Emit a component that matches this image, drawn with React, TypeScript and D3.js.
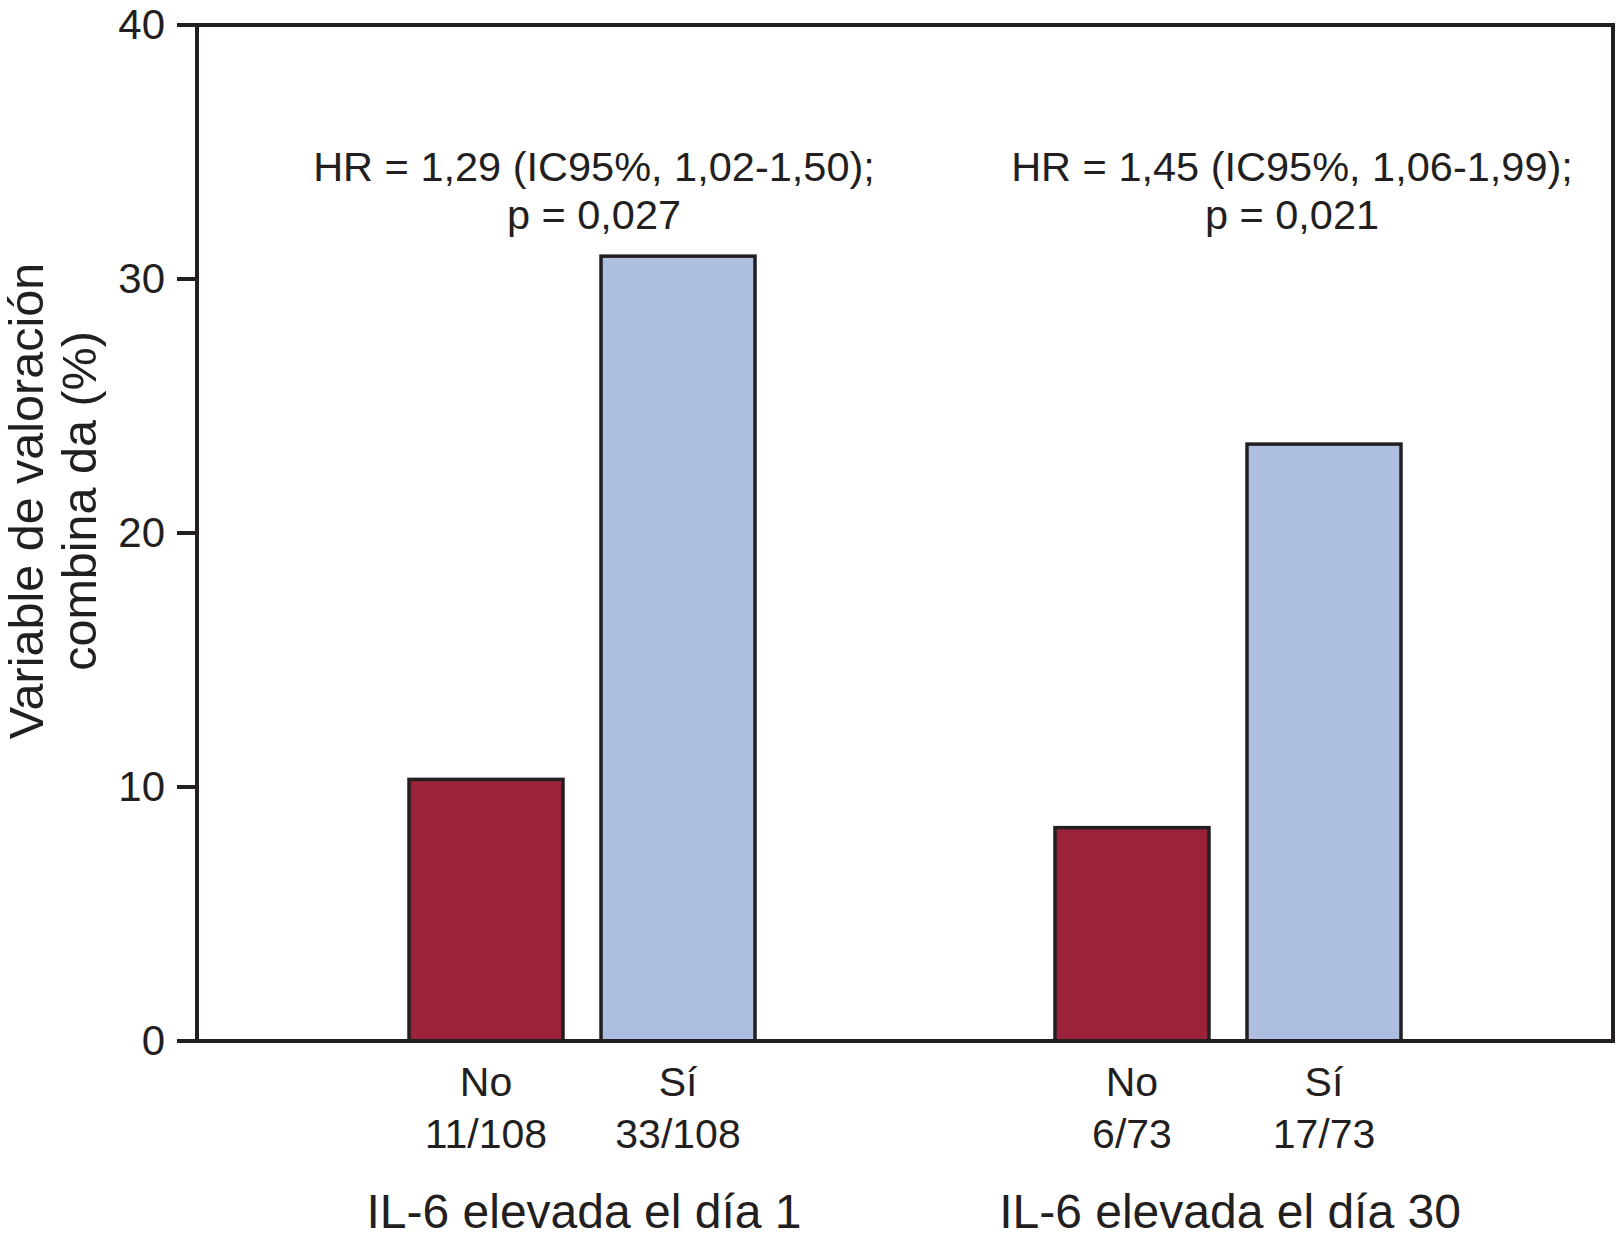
import React, { useEffect, useRef } from "react";
import * as d3 from "d3";

// chart values
const groups = ["IL-6 elevada el día 1", "IL-6 elevada el día 30"];
const subgroups = ["No", "Sí"];
const counts = [["11/108", "33/108"], ["6/73", "17/73"]];
const values = [[10.3, 30.9], [8.4, 23.5]];
const hrLines = [
    ["HR = 1,29 (IC95%, 1,02-1,50);", "p = 0,027"],
    ["HR = 1,45 (IC95%, 1,06-1,99);", "p = 0,021"],
];
const yTicks = [0, 10, 20, 30, 40];
const yTitle = ["Variable de valoración", "combina da (%)"];

const App: React.FC = () => {
    const svgRef = useRef<SVGSVGElement | null>(null);
    const ink = "#231f20";
    const colors = ["#9c2239", "#aebee0"];
    const font = "'Liberation Sans', Arial, Helvetica, sans-serif";

    useEffect(() => {
        const svg = d3.select(svgRef.current);
        svg.selectAll("*").remove();

        const left = 197, right = 1613, top = 25, bottom = 1041;

        const xGroup = d3.scaleBand<string>()
            .domain(groups)
            .range([left, right])
            .paddingInner(0)
            .paddingOuter(0.096);
        const xSub = d3.scaleBand<string>()
            .domain(subgroups)
            .range([-173, 173])
            .paddingInner(0.198);
        const y = d3.scaleLinear().domain([0, 40]).range([bottom, top]);

        const center = (g: string) => xGroup(g)! + xGroup.bandwidth() / 2;

        const g = svg.append("g").style("font-family", font).attr("fill", ink);

        // bars
        groups.forEach((grp, gi) => {
            subgroups.forEach((sub, si) => {
                g.append("rect")
                    .attr("x", center(grp) + xSub(sub)!)
                    .attr("y", y(values[gi][si]))
                    .attr("width", xSub.bandwidth())
                    .attr("height", y(0) - y(values[gi][si]))
                    .attr("fill", colors[si])
                    .attr("stroke", ink)
                    .attr("stroke-width", 3.5);

                const cx = center(grp) + xSub(sub)! + xSub.bandwidth() / 2;
                g.append("text").attr("x", cx).attr("y", 1096)
                    .attr("text-anchor", "middle").style("font-size", "41px").text(sub);
                g.append("text").attr("x", cx).attr("y", 1148)
                    .attr("text-anchor", "middle").style("font-size", "41px").text(counts[gi][si]);
            });

            g.append("text").attr("x", center(grp) + 2).attr("y", 1228)
                .attr("text-anchor", "middle").style("font-size", "48px").text(grp);
        });

        // HR annotations
        const hrOffset = [12, 64];
        hrLines.forEach((lines, gi) => {
            lines.forEach((line, li) => {
                g.append("text")
                    .attr("x", center(groups[gi]) + hrOffset[gi])
                    .attr("y", 181 + li * 48)
                    .attr("text-anchor", "middle")
                    .style("font-size", "41.5px")
                    .text(line);
            });
        });

        // frame
        g.append("rect")
            .attr("x", left).attr("y", top)
            .attr("width", right - left).attr("height", bottom - top)
            .attr("fill", "none").attr("stroke", ink).attr("stroke-width", 4);

        // y ticks
        yTicks.forEach((t) => {
            g.append("line")
                .attr("x1", left - 20).attr("x2", left)
                .attr("y1", y(t)).attr("y2", y(t))
                .attr("stroke", ink).attr("stroke-width", 4);
            g.append("text")
                .attr("x", 165).attr("y", y(t)).attr("dy", "0.33em")
                .attr("text-anchor", "end").style("font-size", "42px")
                .text(String(t));
        });

        // y title
        yTitle.forEach((line, i) => {
            g.append("text")
                .attr("transform", `translate(${43 + i * 53},501) rotate(-90)`)
                .attr("text-anchor", "middle")
                .style("font-size", "48.5px")
                .text(line);
        });
    }, []);

    return (
        <div style={{ position: "absolute", left: 0, top: 0 }}>
            <svg ref={svgRef} width={1618} height={1242} style={{ display: "block", background: "#fff" }}></svg>
        </div>
    );
};

export default App;
